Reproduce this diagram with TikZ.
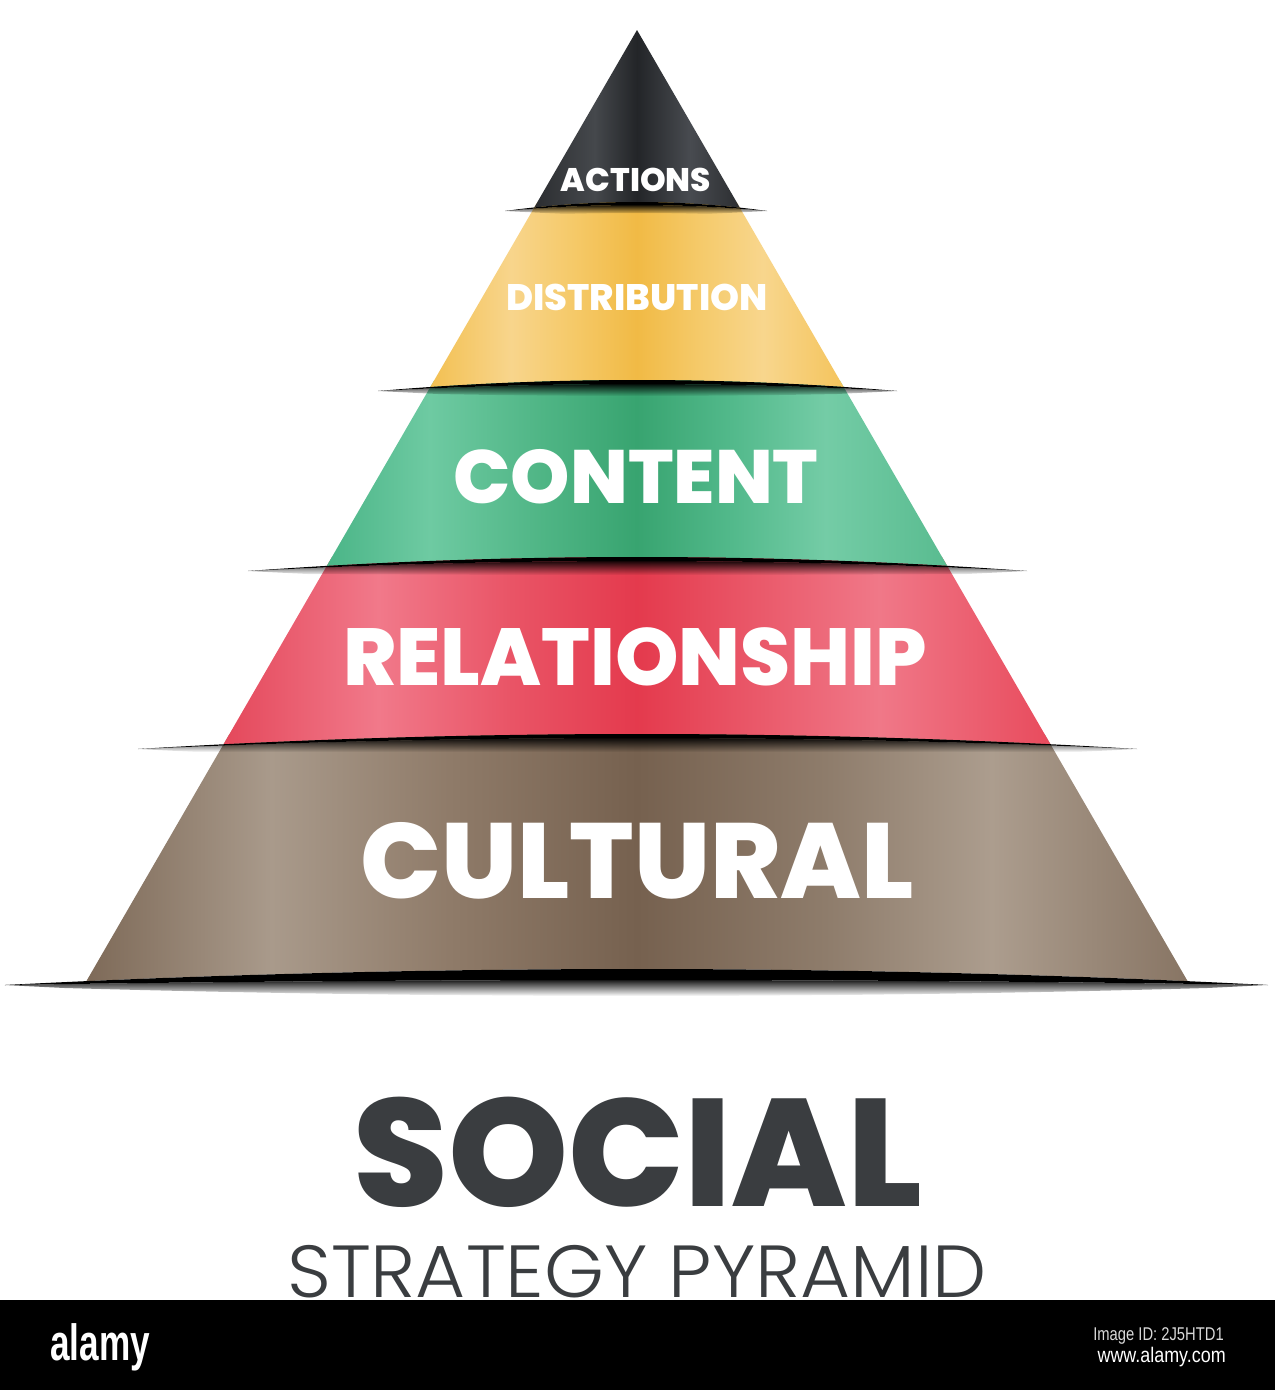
\documentclass[tikz,border=0pt]{standalone}
\usepackage{fontspec}
\setmainfont{Poppins}
\newfontfamily\poplight{Poppins}[UprightFont=* Light]
\newfontfamily\popheavy{Poppins}[UprightFont=* ExtraBold]
\newfontfamily\logofont{Liberation Sans}
\usetikzlibrary{fadings}

\definecolor{titlegray}{HTML}{3A3D40}
% layer colours, left to right
\definecolor{cul0}{HTML}{7D6957}\definecolor{cul1}{HTML}{A99A8B}\definecolor{cul2}{HTML}{8F7B69}
\definecolor{cul3}{HTML}{76614F}\definecolor{cul4}{HTML}{8E7C6B}\definecolor{cul5}{HTML}{AC9D8E}
\definecolor{cul6}{HTML}{877463}
\definecolor{rel0}{HTML}{E4475A}\definecolor{rel1}{HTML}{F1798A}\definecolor{rel2}{HTML}{E95466}
\definecolor{rel3}{HTML}{E43A4D}\definecolor{rel4}{HTML}{EA5A6B}\definecolor{rel5}{HTML}{F07888}
\definecolor{rel6}{HTML}{E84A5C}
\definecolor{con0}{HTML}{49B486}\definecolor{con1}{HTML}{6ECAA2}\definecolor{con2}{HTML}{4FB585}
\definecolor{con3}{HTML}{38A470}\definecolor{con4}{HTML}{52B98B}\definecolor{con5}{HTML}{74CCA6}
\definecolor{con6}{HTML}{58BB8F}
\definecolor{dis0}{HTML}{F2BF4F}\definecolor{dis1}{HTML}{F8D58C}\definecolor{dis2}{HTML}{F5C968}
\definecolor{dis3}{HTML}{F1BA45}\definecolor{dis4}{HTML}{F5CA6A}\definecolor{dis5}{HTML}{F8D68D}
\definecolor{dis6}{HTML}{F4C35A}
\definecolor{act0}{HTML}{2A2C2F}\definecolor{act1}{HTML}{45484C}\definecolor{act2}{HTML}{232528}
\definecolor{act3}{HTML}{484B50}

\pgfdeclarehorizontalshading{culturalshade}{100bp}{color(0bp)=(cul0); color(25bp)=(cul0);
  color(33.5bp)=(cul1); color(41.5bp)=(cul2); color(50bp)=(cul3); color(58.5bp)=(cul4);
  color(66bp)=(cul5); color(75bp)=(cul6); color(100bp)=(cul6)}
\pgfdeclarehorizontalshading{relationshade}{100bp}{color(0bp)=(rel0); color(25bp)=(rel0);
  color(34.5bp)=(rel1); color(42.5bp)=(rel2); color(50bp)=(rel3); color(57.5bp)=(rel4);
  color(64.5bp)=(rel5); color(75bp)=(rel6); color(100bp)=(rel6)}
\pgfdeclarehorizontalshading{contentshade}{100bp}{color(0bp)=(con0); color(25bp)=(con0);
  color(33.5bp)=(con1); color(42.5bp)=(con2); color(50bp)=(con3); color(57.5bp)=(con4);
  color(65bp)=(con5); color(75bp)=(con6); color(100bp)=(con6)}
\pgfdeclarehorizontalshading{distribshade}{100bp}{color(0bp)=(dis0); color(25bp)=(dis0);
  color(35bp)=(dis1); color(42.5bp)=(dis2); color(50bp)=(dis3); color(57.5bp)=(dis4);
  color(65bp)=(dis5); color(75bp)=(dis6); color(100bp)=(dis6)}
\pgfdeclarehorizontalshading{actionshade}{100bp}{color(0bp)=(act0); color(25bp)=(act0);
  color(40bp)=(act1); color(50bp)=(act2); color(62.5bp)=(act3); color(75bp)=(act0);
  color(100bp)=(act0)}

\tikzfading[name=bladefade, top color=transparent!10, bottom color=transparent!100]

\tikzset{
  layertext/.style={text=white, inner sep=0pt},
  titletext/.style={text=titlegray, inner sep=0pt},
}

\begin{document}
\begin{tikzpicture}[x=0.02cm, y=-0.02cm]
    \useasboundingbox (0,0) rectangle (1275,1390);
    % layers from the base up: top, blade ends, blade bend, blade and shadow depth, shading
    \foreach \yt/\lx/\rx/\ye/\ym/\bt/\sd/\shd in {
        734/5/1268/985/969/11/16/culturalshade,
        557/138/1137/749/734/4/14/relationshade,
        380/248/1027/571/557/4/14/contentshade,
        202/378/897/391/380/4/12/distribshade,
        30/505/767/211/202/3/8/actionshade}{
        \begin{scope}
            \clip (\lx,\yt-20) -- (\lx,\ye) parabola bend (637,\ym) (\rx,\ye) -- (\rx,\yt-20) -- cycle;
            \shade[shading=\shd] ({637-0.5789*(\yt-30)},\yt) -- ({637+0.5789*(\yt-30)},\yt)
                -- ({637+0.5789*(\ye-28)},\ye+2) -- ({637-0.5789*(\ye-28)},\ye+2) -- cycle;
        \end{scope}
        \fill[black, path fading=bladefade] (\lx,\ye) parabola bend (637,\ym+\bt) (\rx,\ye)
            -- (\rx-60,\ye+3) parabola bend (637,\ym+\bt+\sd) (\lx+60,\ye+3) -- cycle;
        \fill[black] (\lx,\ye) parabola bend (637,\ym) (\rx,\ye)
            parabola bend (637,\ym+\bt) (\lx,\ye) -- cycle;
    }

    \node[layertext, font=\popheavy\fontsize{18.6}{19}\selectfont] (actions) at (636,180) {ACTIONS};
    \node[layertext, font=\popheavy\fontsize{21}{22}\selectfont] (distribution) at (637,297) {DISTRIBUTION};
    \node[layertext, font=\popheavy\fontsize{43}{44}\selectfont] (content) at (636,477) {CONTENT};
    \node[layertext, font=\popheavy\fontsize{46}{47}\selectfont] (relationship) at (635,657) {RELATIONSHIP};
    \node[layertext, font=\popheavy\fontsize{60.8}{61}\selectfont] (cultural) at (637,861) {CULTURAL};

    \node[titletext, font=\popheavy\fontsize{87}{88}\selectfont] (social) at (638,1152) {SOCIAL};
    \node[titletext, xscale=1.04, font=\poplight\fontsize{42}{43}\selectfont] (subtitle) at (637,1272) {STRATEGY PYRAMID};

    % stock bar
    \fill[black] (0,1300) rectangle (1275,1390);
    \node[text=white, inner sep=0pt, anchor=base west, xscale=0.69,
        font=\logofont\bfseries\fontsize{29}{29}\selectfont] (logo) at (50,1360) {alamy};
    \node[text=white!85!black, inner sep=0pt, anchor=base east, xscale=0.8,
        font=\logofont\fontsize{10.5}{11}\selectfont] (imageid) at (1224,1340) {Image ID: 2J5HTD1};
    \node[text=white, inner sep=0pt, anchor=base east, xscale=0.85,
        font=\logofont\fontsize{12}{12}\selectfont] (website) at (1226,1362) {www.alamy.com};
\end{tikzpicture}
\end{document}
